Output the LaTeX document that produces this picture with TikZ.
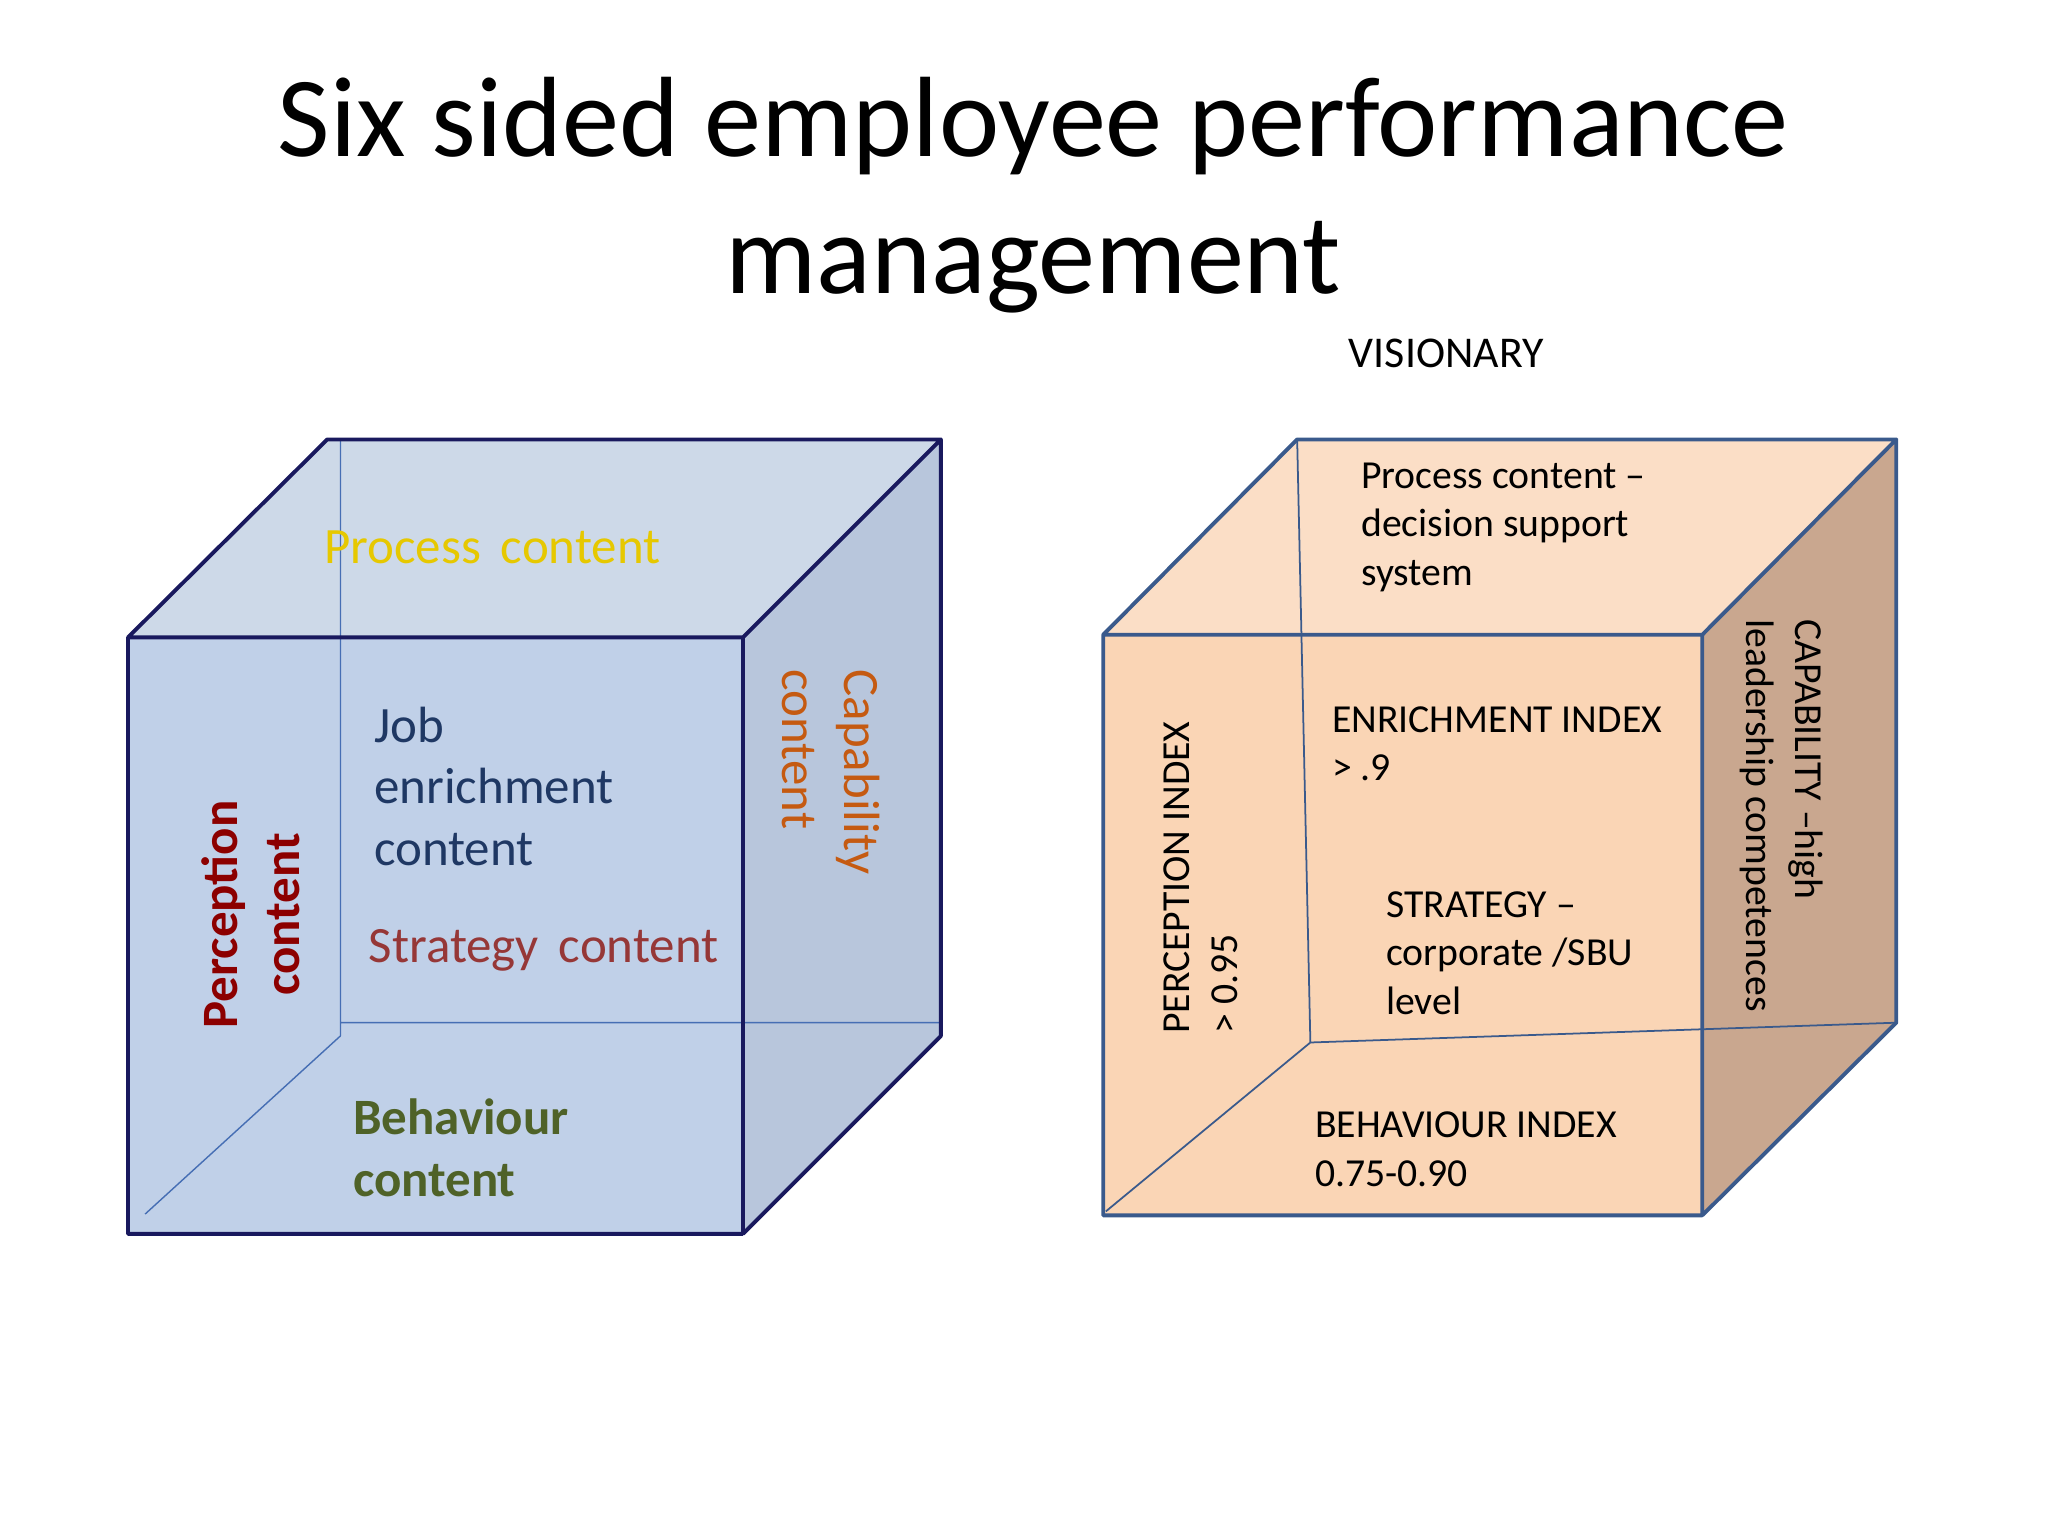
\documentclass[tikz,border=0pt]{standalone}
\usepackage{fontspec}
\setmainfont{Carlito}
\begin{document}
\begin{tikzpicture}[x=0.013196cm,y=-0.013196cm,
  edgeL/.style={draw=blue!30!black!90, line width=1.1pt, line join=round},
  edgeR/.style={draw={rgb,255:red,58;green,90;blue,140}, line width=1.1pt, line join=round},
  hidL/.style={draw={rgb,255:red,70;green,110;blue,180}, line width=0.4pt},
  hidR/.style={draw={rgb,255:red,58;green,90;blue,140}, line width=0.5pt},
  lbl/.style={font=\fontsize{14.5}{17.6}\selectfont, align=left, anchor=north west, inner sep=0pt},
  rl/.style={font=\fontsize{11.3}{13.8}\selectfont, align=left, anchor=north west, inner sep=0pt}]
\useasboundingbox (0,0) rectangle (1552,1164);
\definecolor{lfront}{RGB}{192,208,232}
\definecolor{ltop}{RGB}{205,217,232}
\definecolor{lside}{RGB}{184,198,220}
\definecolor{rfront}{RGB}{250,213,181}
\definecolor{rtop}{RGB}{251,222,198}
\definecolor{rside}{RGB}{201,167,143}
\node (title) at (783,150) {\fontsize{32.5}{39}\selectfont\begin{tabular}{c}Six sided employee performance\\management\end{tabular}};
\node (vis) at (1096,268) {\fontsize{12.5}{15}\selectfont VISIONARY};
% left cube
\fill[ltop] (97,483) -- (248,333) -- (713,333) -- (563,483) -- cycle;
\fill[lside] (563,483) -- (713,333) -- (713,785) -- (563,935) -- cycle;
\fill[lfront] (97,483) rectangle (563,935);
\draw[hidL] (258,333) -- (258,785) (258,775) -- (713,775) (258,785) -- (110,920);
\draw[edgeL] (97,483) -- (248,333) -- (713,333) -- (563,483) -- cycle
  (563,483) -- (713,333) -- (713,785) -- (563,935)
  (97,483) rectangle (563,935);
\node[lbl, text={rgb,255:red,230;green,200;blue,0}] (pc) at (245,402) {Process\, content};
\node[lbl, text={rgb,255:red,31;green,56;blue,100}] (job) at (283,535) {Job\\enrichment\\content};
\node[lbl, text={rgb,255:red,150;green,55;blue,55}] (str) at (279,704) {Strategy\, content};
\node[lbl, font=\fontsize{14.5}{17.6}\selectfont\bfseries, text={rgb,255:red,79;green,98;blue,40}] (beh) at (267,832) {Behaviour\\content};
\node[font=\fontsize{14.5}{17.6}\selectfont\bfseries, text={rgb,255:red,140;green,0;blue,0}, rotate=90, align=center, inner sep=0pt] (per) at (190,693) {Perception\\content};
\node[font=\fontsize{14.5}{17.6}\selectfont, text={rgb,255:red,197;green,90;blue,17}, rotate=-90, align=left, inner sep=0pt] (cap) at (630,585) {Capability\\content};
% right cube
\fill[rtop] (836,481) -- (983,333) -- (1437,333) -- (1290,481) -- cycle;
\fill[rside] (1290,481) -- (1437,333) -- (1437,775) -- (1290,921) -- cycle;
\fill[rfront] (836,481) rectangle (1290,921);
\draw[hidR] (983,333) -- (993,790) -- (1437,775) (993,790) -- (838,918);
\draw[edgeR] (836,481) -- (983,333) -- (1437,333) -- (1290,481) -- cycle
  (1290,481) -- (1437,333) -- (1437,775) -- (1290,921)
  (836,481) rectangle (1290,921);
\node[rl] (rp) at (1031,350) {Process content –\\decision support\\system};
\node[rl] (re) at (1009,535) {ENRICHMENT INDEX\\> .9};
\node[rl] (rs) at (1050,675) {STRATEGY –\\corporate /SBU\\level};
\node[rl] (rb) at (996,842) {BEHAVIOUR INDEX\\0.75-0.90};
\node[font=\fontsize{11.3}{13.8}\selectfont, rotate=90, align=left, inner sep=0pt] (rper) at (910,665) {PERCEPTION INDEX\\> 0.95};
\node[font=\fontsize{11.3}{13.8}\selectfont, rotate=-90, align=left, inner sep=0pt] (rcap) at (1350,618) {CAPABILITY –high\\leadership competences};
\end{tikzpicture}
\end{document}
